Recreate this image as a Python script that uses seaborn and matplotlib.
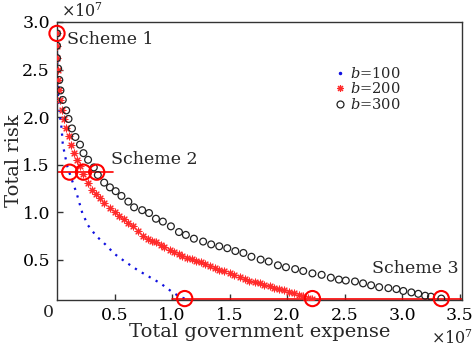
import numpy as np
import pandas as pd
import matplotlib
matplotlib.use("Agg")
import matplotlib.pyplot as plt
from matplotlib.lines import Line2D
import seaborn as sns

# values in units of 1e7
x_b100 = [0, 0, 0.005, 0.01, 0.02, 0.04, 0.05, 0.065, 0.09, 0.12, 0.17, 0.22,
          0.27, 0.34, 0.42, 0.50, 0.59, 0.70, 0.80, 0.90, 1.00, 1.065, 1.11]
y_b100 = [2.88, 2.62, 2.39, 2.18, 2.07, 1.88, 1.72, 1.62, 1.48, 1.37, 1.20, 0.99,
          0.86, 0.75, 0.66, 0.56, 0.48, 0.39, 0.32, 0.25, 0.16, 0.11, 0.09]

x_b200 = [0, 0, 0, 0.01, 0.01, 0.02, 0.03, 0.04, 0.06, 0.08, 0.10, 0.12, 0.15,
          0.17, 0.20, 0.23, 0.27, 0.30, 0.34, 0.37, 0.41, 0.46, 0.50, 0.54, 0.58,
          0.62, 0.66, 0.70, 0.75, 0.79, 0.83, 0.86, 0.90, 0.93, 0.98, 1.02, 1.06,
          1.09, 1.13, 1.17, 1.21, 1.25, 1.29, 1.33, 1.37, 1.41, 1.45, 1.50, 1.54,
          1.59, 1.63, 1.67, 1.72, 1.76, 1.80, 1.85, 1.89, 1.93, 1.97, 2.02, 2.06,
          2.10, 2.14, 2.18, 2.22]
y_b200 = [2.88, 2.75, 2.62, 2.50, 2.39, 2.28, 2.18, 2.07, 1.98, 1.88, 1.80, 1.71,
          1.62, 1.55, 1.48, 1.40, 1.31, 1.23, 1.19, 1.15, 1.10, 1.04, 1.00, 0.96,
          0.93, 0.89, 0.85, 0.80, 0.75, 0.72, 0.70, 0.68, 0.65, 0.63, 0.60, 0.58,
          0.56, 0.54, 0.52, 0.51, 0.49, 0.47, 0.45, 0.43, 0.41, 0.39, 0.375, 0.355,
          0.34, 0.32, 0.30, 0.28, 0.265, 0.25, 0.235, 0.22, 0.205, 0.19, 0.175,
          0.16, 0.145, 0.13, 0.115, 0.10, 0.09]

x_b300 = [0, 0, 0, 0.01, 0.02, 0.03, 0.05, 0.08, 0.10, 0.13, 0.16, 0.20, 0.23,
          0.27, 0.32, 0.355, 0.41, 0.46, 0.51, 0.56, 0.62, 0.67, 0.74, 0.80, 0.86,
          0.92, 0.99, 1.06, 1.12, 1.19, 1.27, 1.34, 1.41, 1.48, 1.55, 1.62, 1.69,
          1.77, 1.84, 1.92, 1.99, 2.07, 2.14, 2.22, 2.30, 2.38, 2.45, 2.51, 2.59,
          2.66, 2.73, 2.80, 2.88, 2.95, 3.01, 3.08, 3.14, 3.20, 3.25, 3.34]
y_b300 = [2.88, 2.75, 2.62, 2.51, 2.39, 2.28, 2.18, 2.07, 1.98, 1.88, 1.79, 1.71,
          1.62, 1.55, 1.47, 1.39, 1.31, 1.26, 1.22, 1.17, 1.11, 1.05, 1.02, 0.99,
          0.93, 0.90, 0.85, 0.79, 0.76, 0.72, 0.69, 0.66, 0.64, 0.62, 0.59, 0.57,
          0.53, 0.50, 0.48, 0.44, 0.42, 0.40, 0.38, 0.355, 0.34, 0.31, 0.29, 0.28,
          0.27, 0.25, 0.23, 0.21, 0.20, 0.19, 0.17, 0.155, 0.14, 0.12, 0.11, 0.09]

# highlighted schemes
scheme1_x = [0]
scheme1_y = [2.88]
scheme2_x = [0.11, 0.23, 0.345]
scheme2_y = [1.42, 1.42, 1.42]
scheme2_line_x = [0, 0.49]
scheme2_line_y = [1.42, 1.42]
scheme3_x = [1.11, 2.22, 3.34]
scheme3_y = [0.09, 0.09, 0.09]
scheme3_line_x = [1.0, 3.52]
scheme3_line_y = [0.09, 0.09]

legend_labels = ['$b$=100', '$b$=200', '$b$=300']
x_ticks = [0.5, 1.0, 1.5, 2.0, 2.5, 3.0, 3.5]
y_ticks = [0.5, 1.0, 1.5, 2.0, 2.5, 3.0]

sns.set_style('ticks')
plt.rcParams['font.family'] = ['DejaVu Serif']
plt.rcParams['mathtext.fontset'] = 'dejavuserif'

fig = plt.figure(figsize=(4.74, 3.51), dpi=100)
ax = fig.add_axes([57 / 474, 51 / 351, 405 / 474, 278 / 351])

# b=100 as a dotted blue curve
sns.lineplot(x=x_b100, y=y_b100, sort=False, color='#1010e0', linestyle=(0, (1, 2.6)),
             linewidth=1.6, ax=ax)
# b=200 red asterisks
sns.scatterplot(x=x_b200, y=y_b200, marker=(8, 2, 0), s=24, color='#ff2a2a',
                linewidth=0.8, ax=ax, zorder=3)
# b=300 open black circles
sns.scatterplot(x=x_b300, y=y_b300, marker='o', s=24, facecolor='none',
                edgecolor='#222222', linewidth=0.9, ax=ax, zorder=4)

# scheme highlights
sns.lineplot(x=scheme2_line_x, y=scheme2_line_y, color='red', linewidth=1.2, ax=ax)
sns.lineplot(x=scheme3_line_x, y=scheme3_line_y, color='red', linewidth=1.2, ax=ax,
             clip_on=False)
for sx, sy in [(scheme1_x, scheme1_y), (scheme2_x, scheme2_y), (scheme3_x, scheme3_y)]:
    sns.scatterplot(x=sx, y=sy, marker='o', s=120, facecolor='none', edgecolor='red',
                    linewidth=1.5, ax=ax, zorder=5, clip_on=False)

ax.set_xlim(0, 3.52)
ax.set_ylim(0.075, 3.0)
ax.set_xticks(x_ticks)
ax.set_yticks(y_ticks)
ax.set_xticklabels([f'{t:.1f}' for t in x_ticks])
ax.set_yticklabels([f'{t:.1f}' for t in y_ticks])
ax.tick_params(direction='in', length=4, width=1, labelsize=12.5, top=False, right=False,
               colors='#333333', labelcolor='black', pad=5)
for sp in ax.spines.values():
    sp.set_linewidth(1.0)
    sp.set_color('#333333')

ax.set_xlabel('Total government expense', fontsize=14)
ax.set_ylabel('Total risk', fontsize=14)
ax.xaxis.set_label_coords(0.5, -0.083)
ax.yaxis.set_label_coords(-0.107, 0.5)
ax.yaxis.label.set_va('center')

ax.annotate('0', xy=(0, 0), xycoords='axes fraction', xytext=(-6, -3),
            textcoords='offset points', ha='center', va='top', fontsize=12.5)
ax.annotate(r'$\times10^7$', xy=(0, 1), xycoords='axes fraction', xytext=(3, 3.5),
            textcoords='offset points', ha='left', va='baseline', fontsize=11.5)
ax.annotate(r'$\times10^7$', xy=(1, 0), xycoords='axes fraction', xytext=(-22, -32),
            textcoords='offset points', ha='left', va='baseline', fontsize=11.5)

ax.text(0.09, 2.82, 'Scheme 1', fontsize=12.5, va='center')
ax.text(0.47, 1.55, 'Scheme 2', fontsize=12.5, va='center')
ax.text(2.74, 0.41, 'Scheme 3', fontsize=12.5, va='center')

handles = [
    Line2D([], [], ls='none', marker='.', markersize=3, color='#1010e0'),
    Line2D([], [], ls='none', marker=(8, 2, 0), markersize=5, color='#ff2a2a', mew=0.8),
    Line2D([], [], ls='none', marker='o', markersize=5, mfc='none', mec='#222222', mew=0.9),
]
ax.legend(handles, legend_labels, loc='upper left', bbox_to_anchor=(0.684, 0.843),
          frameon=False, fontsize=10.5, handlelength=0.8, handletextpad=0.3,
          labelspacing=0.05, borderaxespad=0, borderpad=0)

fig.savefig('out.png', dpi=100)
